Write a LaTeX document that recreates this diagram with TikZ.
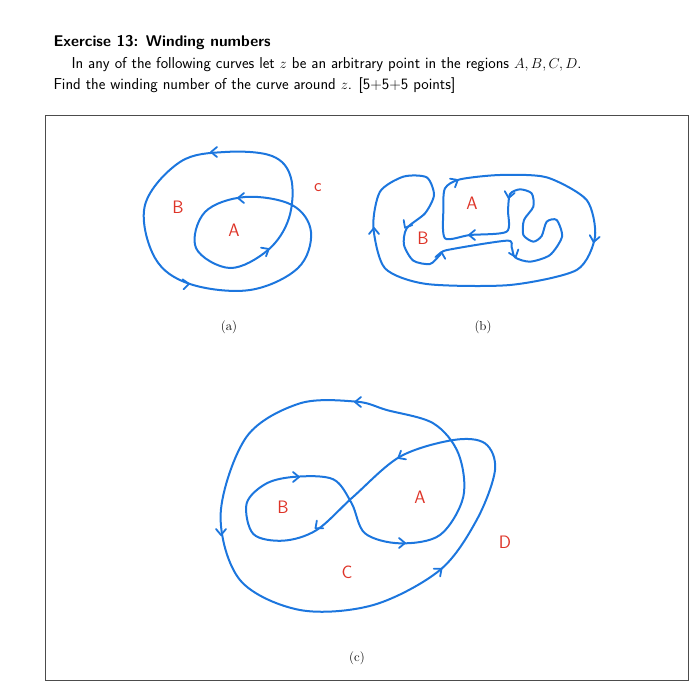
\documentclass[tikz,border=0pt]{standalone}
\usetikzlibrary{arrows.meta}
\definecolor{cb}{RGB}{28,118,222}
\definecolor{cr}{RGB}{222,52,40}
\tikzset{
 curve/.style={cb,line width=2pt,line cap=round,line join=round},
 lbl/.style={cr,font=\sffamily\fontsize{18}{20}\selectfont},
 subcap/.style={font=\fontsize{13}{15}\selectfont},
 txt/.style={anchor=base west,font=\sffamily\fontsize{15.8}{18}\selectfont},
 chev/.pic={\draw[cb,line width=1.8pt,line cap=round,line join=round] (-4,5)--(2,0)--(-4,-5);}
}
\begin{document}
\begin{tikzpicture}[x=1pt,y=-1pt]
\useasboundingbox (0,0) rectangle (700,696);
\node[anchor=base west,font=\sffamily\bfseries\fontsize{15.5}{18}\selectfont] (t) at (50,46) {Exercise 13: Winding numbers};
\node[txt] (l1) at (68,68) {In any of the following curves let $z$ be an arbitrary point in the regions $A,B,C,D$.};
\node[txt] (l2) at (50,89) {Find the winding number of the curve around $z$. [5+5+5 points]};
\draw[black!70,line width=0.6pt] (45,115) rectangle (688,680);
\node[subcap] (ca) at (229,327) {(a)};
\node[subcap] (cb) at (483,327) {(b)};
\node[subcap] (cc) at (357,658) {(c)};
% (a)
\draw[curve] plot[smooth cycle,tension=0.6] coordinates{
 (225,152)(180,162)(145,205)(155,258)(190,284)(250,290)(298,268)(311,232)(292,205)(245,197)(205,212)(196,248)(230,268)(268,250)(289,218)(291,178)(272,156)};
\pic[rotate=180] at (213,152) {chev};
\pic[rotate=5] at (187,284) {chev};
\pic[rotate=180] at (240,198) {chev};
\pic[rotate=30] at (267,250) {chev};
\node[lbl] (A1) at (234,230) {A};
\node[lbl] (B1) at (178,207) {B};
\node[lbl] (C1) at (318,188) {c};
% (b)
\begin{scope}[shift={(360,160)},scale=1/3]
\draw[curve] plot[smooth cycle,tension=0.45] coordinates{
 (250,150)(255,85)(300,58)(420,45)(560,52)(680,120)(705,230)(650,330)(450,375)(200,372)(75,325)(40,200)(60,95)(130,50)(200,52)(222,105)(195,160)(140,205)(132,255)(160,302)(210,312)(240,285)(262,270)(440,242)(455,262)(465,292)(510,305)(570,285)(606,230)(590,180)(560,185)(545,228)(520,245)(490,225)(492,180)(520,140)(515,100)(480,88)(450,102)(444,150)(440,215)(330,225)(255,235)};
\end{scope}
\pic[rotate=30] at (456,181) {chev};
\pic[rotate=-100] at (594,240) {chev};
\pic[rotate=90] at (374,230) {chev};
\pic[rotate=-120] at (406,226) {chev};
\pic[rotate=80] at (441,254) {chev};
\pic[rotate=180] at (471,235) {chev};
\pic[rotate=-100] at (509,196) {chev};
\pic[rotate=-70] at (515,255) {chev};
\node[lbl] (A2) at (472,203) {A};
\node[lbl] (B2) at (423,238) {B};
% (c)
\begin{scope}[shift={(200,380)},scale=1/3]
\draw[curve] plot[smooth cycle,tension=0.55] coordinates{
 (470,65)(300,70)(140,170)(62,400)(120,600)(300,690)(520,675)(720,570)(830,420)(885,270)(855,190)(760,180)(600,230)(460,350)(350,450)(250,482)(160,462)(140,370)(200,310)(290,290)(400,298)(455,370)(495,460)(600,490)(720,465)(790,350)(775,220)(700,130)(560,90)};
\end{scope}
\pic[rotate=180] at (357,402) {chev};
\pic[rotate=-90] at (221,533) {chev};
\pic[rotate=40] at (440,570) {chev};
\pic[rotate=-150] at (400,457) {chev};
\pic[rotate=-140] at (317,527) {chev};
\pic[rotate=0] at (297,477) {chev};
\pic[rotate=0] at (403,543) {chev};
\node[lbl] (A3) at (420,497) {A};
\node[lbl] (B3) at (283,507) {B};
\node[lbl] (C3) at (347,572) {C};
\node[lbl] (D3) at (505,542) {D};
\end{tikzpicture}
\end{document}
